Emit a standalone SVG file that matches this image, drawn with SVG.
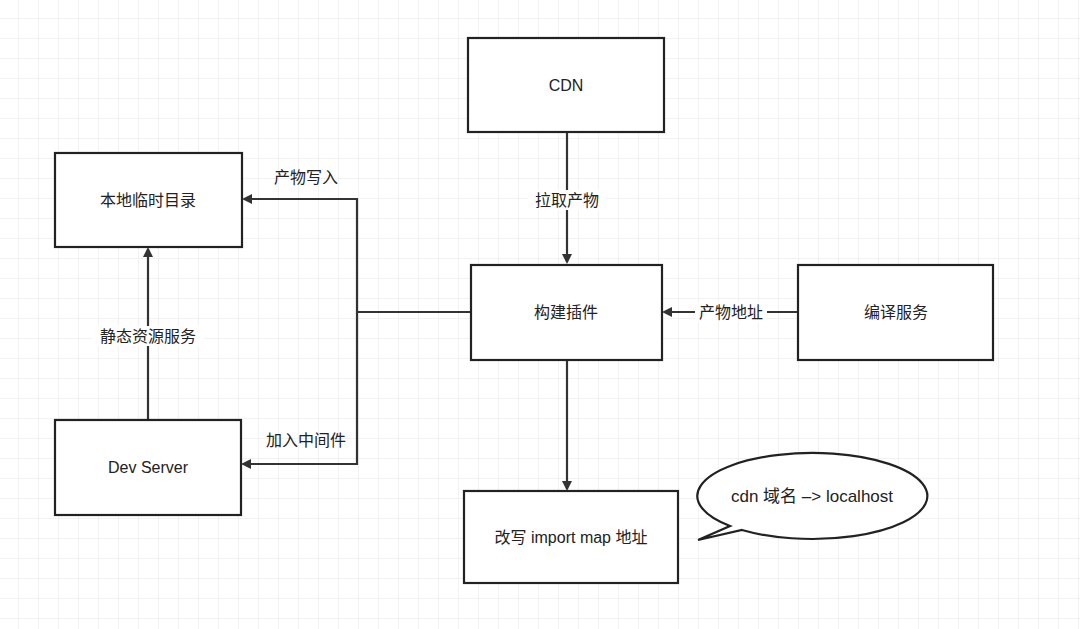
<svg xmlns="http://www.w3.org/2000/svg" width="1080" height="629" viewBox="0 0 1080 629">
<style>
.box{fill:#fff;stroke:#222;stroke-width:2.2}
.ln{fill:none;stroke:#333;stroke-width:2.2}
text{font-family:"Liberation Sans","Noto Sans CJK SC",sans-serif;font-size:16px;fill:#222;text-anchor:middle;dominant-baseline:central}
.lbl{fill:#fff}
</style>
<defs>
<pattern id="g" width="20" height="20" patternUnits="userSpaceOnUse" x="18" y="18">
<path d="M0 0H20M0 0V20" fill="none" stroke="#e6e6e6" stroke-width="1"/>
</pattern>
<marker id="a" markerWidth="10" markerHeight="10" refX="8" refY="5" orient="auto" markerUnits="userSpaceOnUse">
<path d="M0 0L10 5L0 10z" fill="#333"/>
</marker>
</defs>
<rect width="1080" height="629" fill="#fff"/>
<rect width="1080" height="629" fill="url(#g)"/>
<g id="connectors">
<path class="ln" d="M567 132V262" marker-end="url(#a)"/>
<rect class="lbl" x="528" y="190" width="78" height="20"/>
<text x="567" y="200">拉取产物</text>
<path class="ln" d="M471 312H357"/>
<path class="ln" d="M357 312V199H244" marker-end="url(#a)"/>
<path class="ln" d="M357 312V464H243" marker-end="url(#a)"/>
<text x="306" y="177">产物写入</text>
<text x="306" y="440">加入中间件</text>
<path class="ln" d="M798 312H664" marker-end="url(#a)"/>
<rect class="lbl" x="695" y="302" width="72" height="20"/>
<text x="731" y="312">产物地址</text>
<path class="ln" d="M148 420V249" marker-end="url(#a)"/>
<rect class="lbl" x="92" y="326" width="112" height="20"/>
<text x="148" y="336">静态资源服务</text>
<path class="ln" d="M567 360V489" marker-end="url(#a)"/>
</g>
<g id="cdn"><rect class="box" x="468" y="38" width="196" height="94"/><text x="566" y="85">CDN</text></g>
<g id="local"><rect class="box" x="55" y="153" width="187" height="94"/><text x="148" y="200">本地临时目录</text></g>
<g id="plugin"><rect class="box" x="471" y="265" width="191" height="95"/><text x="566" y="312">构建插件</text></g>
<g id="compile"><rect class="box" x="798" y="265" width="195" height="95"/><text x="896" y="312">编译服务</text></g>
<g id="dev"><rect class="box" x="55" y="420" width="186" height="95"/><text x="148" y="467">Dev Server</text></g>
<g id="rewrite"><rect class="box" x="464" y="491" width="214" height="92"/><text x="571" y="537">改写 import map 地址</text></g>
<g id="bubble">
<path class="box" d="M730 526 A115 43 0 1 1 742 530 L698 540 Z"/>
<text x="812" y="496" style="font-size:17px">cdn 域名 –&gt; localhost</text>
</g>
</svg>
